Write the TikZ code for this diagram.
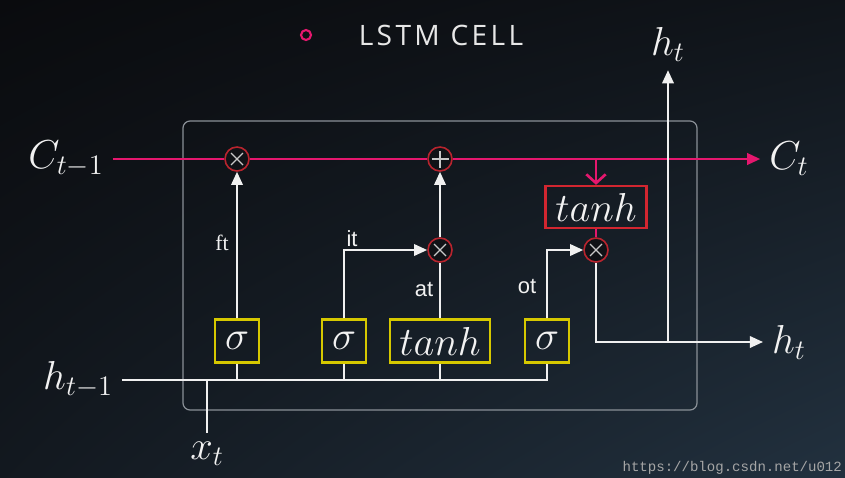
\RequirePackage{fix-cm}
\documentclass[tikz,border=0pt]{standalone}
\usepackage{fontspec}
\usepackage{tikz}
\usetikzlibrary{arrows.meta,positioning,calc,shadings}

\newfontfamily\titlefont{Open Sans}[LetterSpace=12]
\newfontfamily\gatesans{Liberation Sans}
\newfontfamily\gateserif{Liberation Serif}
\newfontfamily\markfont{Liberation Mono}

\definecolor{bgA}{HTML}{0A0B0E}
\definecolor{bgB}{HTML}{22313F}
\definecolor{cmag}{HTML}{E5176E}
\definecolor{opred}{HTML}{B8242E}
\definecolor{opfill}{HTML}{101216}
\definecolor{opx}{HTML}{C8C8C8}
\definecolor{gateyel}{HTML}{D6C800}
\definecolor{tanhred}{HTML}{D22630}
\definecolor{txt}{HTML}{F2F2F2}
\definecolor{wirec}{HTML}{F0F0F0}
\definecolor{cellc}{HTML}{8A9097}

\begin{document}
\begin{tikzpicture}[
    x=0.02cm,y=-0.02cm,
    bigmath/.style={font=\fontsize{23}{27}\selectfont},
    lab/.style={bigmath,text=txt,inner sep=5pt},
    gate/.style={draw=gateyel,line width=1.3pt,minimum width=0.88cm,minimum height=0.86cm,inner sep=0pt,text=txt,bigmath},
    fn/.style={gate,minimum width=2cm},
    redfn/.style={fn,draw=tanhred,minimum width=2.02cm,minimum height=0.84cm},
    op/.style={circle,draw=opred,line width=0.9pt,fill=opfill,minimum size=0.48cm,inner sep=0pt},
    mul/.style={op,path picture={
        \draw[opx,line width=0.7pt]
          ([shift={(-0.12cm,-0.12cm)}]path picture bounding box.center) -- ([shift={(0.12cm,0.12cm)}]path picture bounding box.center)
          ([shift={(-0.12cm,0.12cm)}]path picture bounding box.center) -- ([shift={(0.12cm,-0.12cm)}]path picture bounding box.center);}},
    add/.style={op,path picture={
        \draw[opx,line width=0.7pt]
          ([shift={(-0.17cm,0cm)}]path picture bounding box.center) -- ([shift={(0.17cm,0cm)}]path picture bounding box.center)
          ([shift={(0cm,-0.17cm)}]path picture bounding box.center) -- ([shift={(0cm,0.17cm)}]path picture bounding box.center);}},
    wire/.style={draw=wirec,line width=1.3pt},
    cwire/.style={draw=cmag,line width=1.5pt},
    arr/.style={-{Triangle[length=7.5pt,width=6.5pt]}},
    glab/.style={text=txt,font=\gatesans\fontsize{12.5}{14}\selectfont}]

  % ---- background and frame ----
  \useasboundingbox (0,0) rectangle (845,477);
  \shade[upper left=bgA,upper right=bgA!75!bgB,lower left=bgA!65!bgB,lower right=bgB] (0,0) rectangle (845,477);
  \draw[cellc,line width=0.7pt,rounded corners=4pt] (183,121) rectangle (697,410);

  % ---- title ----
  \node[circle,draw=cmag,line width=1.2pt,minimum size=0.2cm,inner sep=0pt] (dot) at (306,35) {};
  \node[text=txt!90!gray,font=\titlefont\fontsize{16}{19}\selectfont] (title) at (441,35) {LSTM CELL};

  % ---- outer labels ----
  \node[lab] (Cprev) at (66,159) {$C_{t-1}$};
  \node[lab] (Cnext) at (789,159) {$C_t$};
  \node[lab] (hprev) at (78,380) {$h_{t-1}$};
  \node[lab] (hnext) at (789,342) {$h_t$};
  \node[lab] (htop)  at (668,44) {$h_t$};
  \node[lab] (xt)    at (207,454) {$x_t$};

  % ---- gates (bottom row) ----
  \node[gate] (sig1)  at (237,341) {$\sigma$};
  \node[gate] (sig2)  at (344,341) {$\sigma$};
  \node[fn]   (tanhb) at (440,341) {$tanh$};
  \node[gate] (sig3)  at (547,341) {$\sigma$};

  % ---- pointwise ops ----
  \node[mul] (fmul)  at (237,159) {};
  \node[add] (addp)  at (440,159) {};
  \node[mul] (imul)  at (440,250) {};
  \node[mul] (omul)  at (596,250) {};
  \node[redfn] (tanhc) at (596,207) {$tanh$};

  % ---- cell state line ----
  \draw[cwire] (Cprev) -- (fmul);
  \draw[cwire] (fmul) -- (addp);
  \draw[cwire,arr] (addp) -- (Cnext);
  \coordinate (tap) at (596,159);
  \draw[cwire,-{Straight Barb[length=5pt,width=11pt]}] (tap) -- (tanhc);
  \draw[cwire] (tanhc) -- (omul);

  % ---- gate wires ----
  \draw[wire,arr] (sig1) -- (fmul);
  \draw[wire,arr] (sig2) |- (imul);
  \draw[wire] (tanhb) -- (imul);
  \draw[wire,arr] (imul) -- (addp);
  \draw[wire,arr] (sig3) |- (omul);
  \draw[wire,arr] (omul) |- (hnext);
  \coordinate (hsplit) at (htop |- hnext);
  \draw[wire,arr] (hsplit) -- (htop);

  % ---- input bus ----
  \draw[wire] (hprev) -| (sig3);
  \draw[wire] (sig1) -- (sig1 |- hprev);
  \draw[wire] (sig2) -- (sig2 |- hprev);
  \draw[wire] (tanhb) -- (tanhb |- hprev);
  \draw[wire] (xt) -- (xt |- hprev);

  % ---- gate names ----
  \node[glab,font=\gateserif\fontsize{12.5}{14}\selectfont] (ft) at (222,243) {ft};
  \node[glab] (it) at (352,239) {it};
  \node[glab] (at) at (424,290) {at};
  \node[glab] (ot) at (527,287) {ot};

  % ---- watermark ----
  \node[anchor=east,text=gray!70,font=\markfont\fontsize{8}{9}\selectfont,inner sep=1pt] (mark) at (844,468) {https://blog.csdn.net/u012};
\end{tikzpicture}
\end{document}
